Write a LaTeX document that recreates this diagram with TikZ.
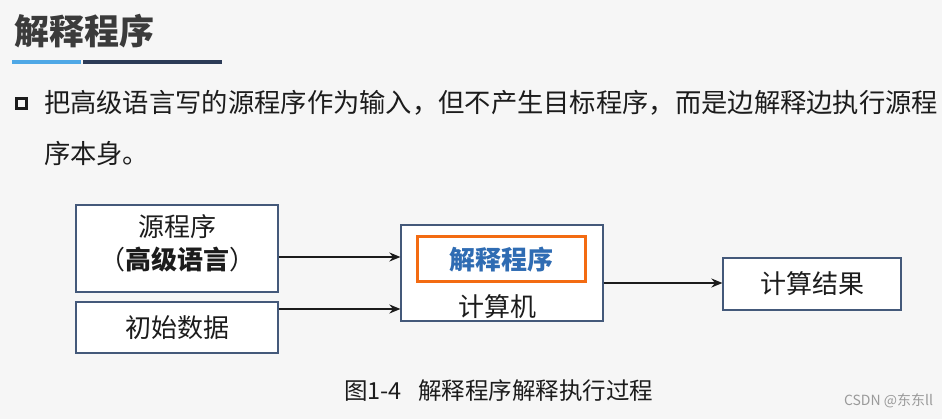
\documentclass[tikz,border=0pt]{standalone}
\usepackage{fontspec}
\newfontfamily\cjk{Noto Sans CJK SC}
\usetikzlibrary{arrows.meta, positioning}
\definecolor{bgwhite}{HTML}{F6F6F6}
\definecolor{ttlgray}{HTML}{3B3B3B}
\definecolor{skyblue}{HTML}{4FA8E6}
\definecolor{navy}{HTML}{2C3B57}
\definecolor{boxline}{HTML}{44597A}
\definecolor{orng}{HTML}{F36B12}
\definecolor{progblue}{HTML}{2F6CB3}
\definecolor{txtblack}{HTML}{1C1C1C}
\definecolor{markgray}{HTML}{9A9A9A}

\begin{document}
\begin{tikzpicture}[x=1pt, y=-1pt, >={Stealth[length=11pt, width=9pt]}, line width=2pt,
  box/.style={draw=boxline, line width=1.2pt, fill=white, inner sep=0pt},
  lbl/.style={text=txtblack, font=\cjk\fontsize{26}{33}\selectfont}]

% Background
\fill[bgwhite] (0,0) rectangle (942,419);
\useasboundingbox (0,0) rectangle (942,419);

% Title
\node[text=ttlgray, font=\cjk\bfseries\fontsize{35}{40}\selectfont, anchor=west, inner sep=0pt] (title) at (13,31) {解释程序};
\draw[skyblue, line width=3.3pt] (12,62) -- (81,62);
\draw[navy, line width=3.3pt] (83,62) -- (222,62);

% Bullet text
\draw[txtblack, line width=2.6pt] (16.3,98.3) rectangle (26.7,108.7);
\node[lbl, font=\cjk\fontsize{26.3}{33}\selectfont, anchor=west, inner sep=0pt] (intro) at (43,103) {把高级语言写的源程序作为输入，但不产生目标程序，而是边解释边执行源程};
\node[lbl, font=\cjk\fontsize{26.3}{33}\selectfont, anchor=west, inner sep=0pt] (intro2) at (43,154) {序本身。};

% Input boxes
\node[box, minimum width=202pt, minimum height=87pt] (src) at (177,248.5) {};
\node[lbl, align=center, inner sep=0pt] (srcLbl) at (177,243.5) {源程序\\（\textbf{高级语言}）};
\node[box, lbl, minimum width=202pt, minimum height=51pt] (data) at (177,327.5) {初始数据};

% Computer with interpreter
\node[box, minimum width=202pt, minimum height=96pt] (comp) at (502,273) {};
\node[draw=orng, line width=3pt, minimum width=168pt, minimum height=45pt, inner sep=0pt,
  text=progblue, font=\cjk\bfseries\fontsize{26}{30}\selectfont] (interp) at (501,259.5) {解释程序};
\node[lbl] (compLbl) at (497,307) {计算机};

% Result box
\node[box, lbl, minimum width=178pt, minimum height=52pt] (result) at (812,284) {计算结果};

% Arrows
\draw[->, txtblack] ([yshift=-8.5pt]src.east) -- ([yshift=16pt]comp.west);
\draw[->, txtblack] ([yshift=18.5pt]data.east) -- ([yshift=-36pt]comp.west);
\draw[->, txtblack] ([yshift=-10pt]comp.east) -- ([yshift=1pt]result.west);

% Caption
\node[text=txtblack, font=\cjk\fontsize{23.5}{26}\selectfont, anchor=west, inner sep=0pt] (caption) at (343,391) {图1-4\hspace{0.7em}解释程序解释执行过程};
\node[text=markgray, font=\cjk\fontsize{14}{16}\selectfont, anchor=west, inner sep=0pt] (mark) at (843,401) {CSDN @东东ll};

\end{tikzpicture}
\end{document}
